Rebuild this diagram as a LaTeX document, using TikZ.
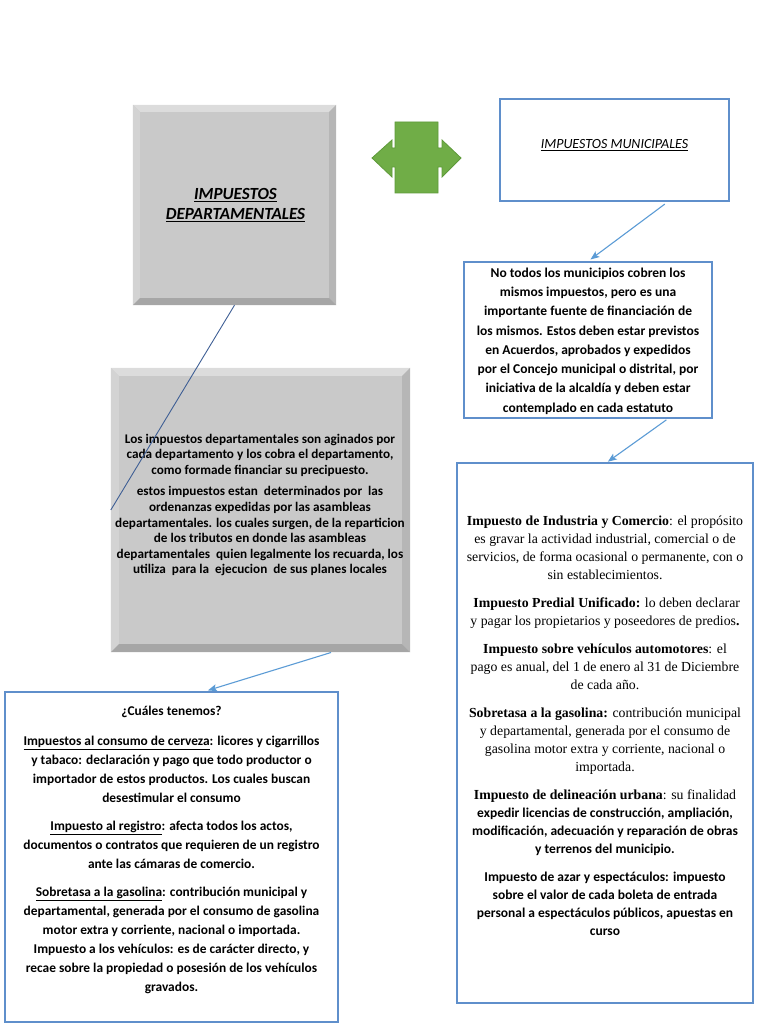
\documentclass[tikz,border=0pt]{standalone}
\usepackage{fontspec}
\setmainfont{Carlito}
\newfontfamily\tms{Liberation Serif}
\usetikzlibrary{arrows.meta,calc}
\definecolor{boxblue}{HTML}{5F8FCB}
\definecolor{arrblue}{HTML}{5B9BD5}
\definecolor{lineblue}{HTML}{3F5F95}
\definecolor{grnfill}{HTML}{70AD47}
\definecolor{grnline}{HTML}{5E9A3A}
\definecolor{face}{HTML}{C9C9C9}
\definecolor{bvtop}{HTML}{DCDCDC}
\definecolor{bvleft}{HTML}{D3D3D3}
\definecolor{bvright}{HTML}{B6B6B6}
\definecolor{bvbot}{HTML}{A6A6A6}
\newcommand\bevelbox[2]{%
  \fill[bvtop] (#1.north west) -- (#1.north east) -- ($(#1.north east)+(-#2,#2)$) -- ($(#1.north west)+(#2,#2)$) -- cycle;
  \fill[bvleft] (#1.north west) -- ($(#1.north west)+(#2,#2)$) -- ($(#1.south west)+(#2,-#2)$) -- (#1.south west) -- cycle;
  \fill[bvright] (#1.north east) -- ($(#1.north east)+(-#2,#2)$) -- ($(#1.south east)+(-#2,-#2)$) -- (#1.south east) -- cycle;
  \fill[bvbot] (#1.south west) -- ($(#1.south west)+(#2,-#2)$) -- ($(#1.south east)+(-#2,-#2)$) -- (#1.south east) -- cycle;
}
\newcommand\cb{\rmfamily\bfseries\fontsize{13.5}{18}\selectfont}
\begin{document}
\begin{tikzpicture}[x=1pt,y=-1pt,
  graybox/.style={rectangle, fill=face, inner sep=0pt},
  bluebox/.style={rectangle, draw=boxblue, line width=1.4pt, fill=white, inner sep=0pt},
  txt/.style={align=center, inner sep=0pt, font=\bfseries},
  conn/.style={draw=arrblue, line width=1.1pt, -{Stealth[length=9pt,width=7pt,inset=2pt]}},
  plainline/.style={draw=lineblue, line width=0.9pt}]
\useasboundingbox (0,0) rectangle (768,1024);

% gray title box
\node[graybox, minimum width=203pt, minimum height=200pt] (dept) at (234.5,205) {};
\bevelbox{dept}{7}
\node[txt, font=\fontsize{17}{20}\selectfont\bfseries\itshape] (depttitle) at (235.5,205)
  {\underline{IMPUESTOS}\\\underline{DEPARTAMENTALES}};

% gray text box
\node[graybox, minimum width=299pt, minimum height=284pt] (dtext) at (260.5,510) {};
\bevelbox{dtext}{8}
\node[txt, font=\fontsize{13.2}{15.6}\selectfont\bfseries] (dtextcontent) at (260,505)
  {Los impuestos departamentales son aginados por\\
   cada departamento y los cobra el departamento,\\
   como formade financiar su precipuesto.\\[6pt]
   estos impuestos estan\ \ determinados por\ \ las\\
   ordenanzas expedidas por las asambleas\\
   departamentales. los cuales surgen, de la reparticion\\
   de los tributos en donde las asambleas\\
   departamentales\ \ quien legalmente los recuarda, los\\
   utiliza\ \ para la\ \ ejecucion\ \ de sus planes locales};

% green double arrow
\filldraw[fill=grnfill, draw=grnline, line width=0.8pt, line join=miter]
  (372,158) -- (392,140) -- (392,148) -- (395,148) -- (395,122) -- (438,122) -- (438,148)
  -- (442,148) -- (442,140) -- (461,158) -- (442,177) -- (442,167) -- (438,167) -- (438,193)
  -- (395,193) -- (395,167) -- (392,167) -- (392,177) -- cycle;

% municipal title box
\node[bluebox, minimum width=229pt, minimum height=102pt] (mun) at (614.5,150) {};
\node[inner sep=0pt, font=\fontsize{14}{16}\selectfont\itshape] (muntitle) at (614.5,145)
  {\underline{IMPUESTOS MUNICIPALES}};

% box 2
\node[bluebox, minimum width=248pt, minimum height=156pt] (box2) at (588,340) {};
\node[txt, font=\fontsize{13.5}{19.3}\selectfont\bfseries] (box2text) at (588,341)
  {No todos los municipios cobren los\\
   mismos impuestos, pero es una\\
   importante fuente de financiación de\\
   los mismos. Estos deben estar previstos\\
   en Acuerdos, aprobados y expedidos\\
   por el Concejo municipal o distrital, por\\
   iniciativa de la alcaldía y deben estar\\
   contemplado en cada estatuto};

% box 3
\node[bluebox, minimum width=296pt, minimum height=540pt] (box3) at (605,733) {};
\node[txt, anchor=north, font=\fontsize{13.8}{18}\selectfont\tms] (box3text) at (605,516)
  {\textbf{Impuesto de Industria y Comercio}: el propósito\\
   es gravar la actividad industrial, comercial o de\\
   servicios, de forma ocasional o permanente, con o\\
   sin establecimientos.\\[10pt]
   \ \textbf{Impuesto Predial Unificado:} lo deben declarar\\
   y pagar los propietarios y poseedores de predios\textbf{.}\\[10pt]
   \textbf{Impuesto sobre vehículos automotores}: el\\
   pago es anual, del 1 de enero al 31 de Diciembre\\
   de cada año.\\[10pt]
   \textbf{Sobretasa a la gasolina:} contribución municipal\\
   y departamental, generada por el consumo de\\
   gasolina motor extra y corriente, nacional o\\
   importada.\\[10pt]
   \textbf{Impuesto de delineación urbana}: su finalidad\\
   {\cb expedir licencias de construcción, ampliación,}\\
   {\cb modificación, adecuación y reparación de obras}\\
   {\cb y terrenos del municipio.}\\[10pt]
   {\cb Impuesto de azar y espectáculos: impuesto}\\
   {\cb sobre el valor de cada boleta de entrada}\\
   {\cb personal a espectáculos públicos, apuestas en}\\
   {\cb curso}};

% box 4
\node[bluebox, minimum width=333pt, minimum height=330pt] (box4) at (171.5,857) {};
\node[txt, anchor=north, font=\fontsize{13.4}{19}\selectfont\bfseries] (box4text) at (171.5,706)
  {¿Cuáles tenemos?\\[11pt]
   \underline{Impuestos al consumo de cerveza}: licores y cigarrillos\\
   y tabaco: declaración y pago que todo productor o\\
   importador de estos productos. Los cuales buscan\\
   desestimular el consumo\\[9pt]
   \underline{Impuesto al registro}: afecta todos los actos,\\
   documentos o contratos que requieren de un registro\\
   ante las cámaras de comercio.\\[9pt]
   \underline{Sobretasa a la gasolina}: contribución municipal y\\
   departamental, generada por el consumo de gasolina\\
   motor extra y corriente, nacional o importada.\\
   Impuesto a los vehículos: es de carácter directo, y\\
   recae sobre la propiedad o posesión de los vehículos\\
   gravados.};

% connectors
\draw[plainline] (dept.south) -- (dtext.west);
\draw[conn, shorten <=4pt, shorten >=3pt] ([xshift=53.5pt]mun.south) -- (box2.north);
\draw[conn, shorten <=2pt, shorten >=1pt] ([xshift=80pt]box2.south) -- ([xshift=2pt]box3.north);
\draw[conn, shorten <=1pt, shorten >=3pt] ([xshift=71.5pt]dtext.south) -- ([xshift=33.5pt]box4.north);
\end{tikzpicture}
\end{document}
